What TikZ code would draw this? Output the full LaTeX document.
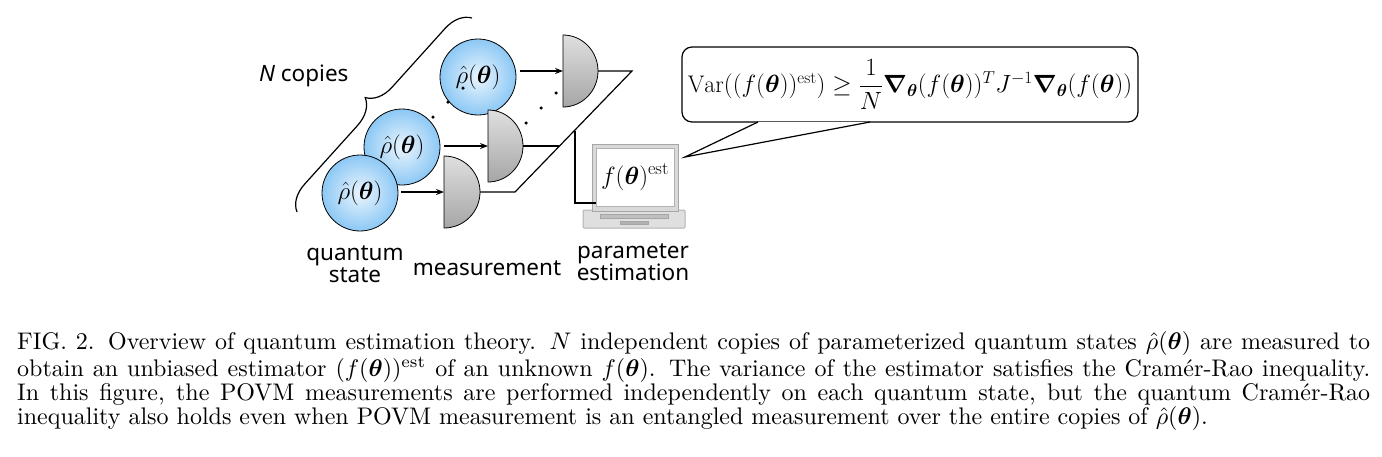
\documentclass[tikz,border=0pt]{standalone}
\usepackage{amsmath,amssymb,bm}
\usepackage{fontspec}
\newfontfamily\lab{Noto Sans}
\usetikzlibrary{decorations.pathreplacing,arrows.meta}
\definecolor{qblue}{RGB}{140,200,245}
\definecolor{qlight}{RGB}{235,245,253}
\tikzset{
  qstate/.style={circle,draw=black,line width=0.8pt,minimum size=76pt,inner sep=0pt,inner color=qlight,outer color=qblue,font=\fontsize{24}{26}\selectfont},
  det/.style={draw=black,line width=0.8pt,top color=gray!25,bottom color=gray!70},
  wire/.style={line width=1.2pt},
  arr/.style={line width=1.2pt,-{Stealth[length=8pt,width=6pt]}},
  labtxt/.style={font=\lab\fontsize{22.5}{24}\selectfont,align=center},
  dotn/.style={circle,fill=black,inner sep=0pt,minimum size=3.5pt}
}
\begin{document}
\begin{tikzpicture}[x=1pt,y=-1pt]
\useasboundingbox (0,0) rectangle (1382,456);
% brace
\draw[line width=1.2pt,decorate,decoration={brace,amplitude=26pt}] (297,212) -- (472,18);
\node[labtxt,anchor=east] (nc) at (352,76) {\textit{N} copies};
% states
\node[qstate] (s3) at (478,77) {$\hat\rho(\bm\theta)$};
\node[qstate] (s2) at (402,147) {$\hat\rho(\bm\theta)$};
\node[qstate] (s1) at (360,193) {$\hat\rho(\bm\theta)$};
% dots
\node[dotn] (d1) at (463,88) {};
\node[dotn] (d2) at (448,102) {};
\node[dotn] (d3) at (433,117) {};
\node[dotn] (e1) at (556,93) {};
\node[dotn] (e2) at (541,108) {};
\node[dotn] (e3) at (526,123) {};
% detectors
\draw[det] (563,35) arc[start angle=-90,end angle=90,x radius=35,y radius=36] -- cycle;
\draw[det] (488,110) arc[start angle=-90,end angle=90,x radius=35,y radius=36] -- cycle;
\draw[det] (444,156) arc[start angle=-90,end angle=90,x radius=36,y radius=36] -- cycle;
\coordinate (m3) at (563,71); \coordinate (m2) at (488,146); \coordinate (m1) at (444,192);
\coordinate (o3) at (598,71); \coordinate (o2) at (523,146); \coordinate (o1) at (480,192);
% arrows
\coordinate (a3) at (520,71); \coordinate (a2) at (444,146); \coordinate (a1) at (401,192);
\draw[arr] (a3) -- (m3);
\draw[arr] (a2) -- (m2);
\draw[arr] (a1) -- (m1);
% wires
\coordinate (c3) at (632,71); \coordinate (c1) at (515,192); \coordinate (c2) at (559,146);
\draw[wire] (o3) -- (c3) -- (c1) -- (o1);
\draw[wire] (o2) -- (c2);
\coordinate (v1) at (575,131); \coordinate (v2) at (575,203);
% laptop
\draw[gray!60,line width=1pt,fill=gray!25,rounded corners=1pt] (583,210) -- (685,210) -- (685,228) -- (583,228) -- cycle;
\draw[gray!70,line width=0.6pt,fill=gray!50] (600,214) rectangle (668,218);
\draw[gray!70,line width=0.6pt,fill=gray!60] (620,221) rectangle (648,224);
\draw[gray!70,line width=1pt,fill=gray!30] (592,144) rectangle (678,211);
\node[draw=gray!60,fill=white,minimum width=78pt,minimum height=58pt,inner sep=0pt,font=\fontsize{26}{28}\selectfont] (lap) at (635,177) {$f(\bm\theta)^{\mathrm{est}}$};
\draw[wire] (v1) -- (v2) -- (lap.west |- v2);
% labels
\node[labtxt] (lq) at (355,264) {quantum\\[-2pt]state};
\node[labtxt] (lm) at (487,268) {measurement};
\node[labtxt] (lp) at (633,262) {parameter\\[-2pt]estimation};
% bubble
\node[draw,line width=1.2pt,rounded corners=10pt,minimum width=456pt,minimum height=75pt,font=\fontsize{24}{26}\selectfont] (bub) at (910,84.5)
 {$\mathrm{Var}((f(\bm\theta))^{\mathrm{est}})\geq\dfrac{1}{N}\bm\nabla_{\bm\theta}(f(\bm\theta))^{T}J^{-1}\bm\nabla_{\bm\theta}(f(\bm\theta))$};
\coordinate (t1) at (758,122); \coordinate (t2) at (685,157); \coordinate (t3) at (870,122);
\fill[white] (t1) -- (t2) -- (t3) -- cycle;
\draw[line width=1.2pt] (t1) -- (t2) -- (t3);
% caption
\node[anchor=north west,inner sep=0pt] (cap) at (17,331)
{\scalebox{2.4}{\parbox{563.75pt}{\fontsize{10}{10}\selectfont\sloppy FIG.~2. Overview of quantum estimation theory. $N$ independent copies of parameterized quantum states $\hat\rho(\bm\theta)$ are measured to\linebreak obtain an unbiased estimator $(f(\bm\theta))^{\mathrm{est}}$ of an unknown $f(\bm\theta)$. The variance of the estimator satisfies the Cram\'er-Rao inequality.\linebreak In this figure, the POVM measurements are performed independently on each quantum state, but the quantum Cram\'er-Rao\linebreak inequality also holds even when POVM measurement is an entangled measurement over the entire copies of $\hat\rho(\bm\theta)$.}}};
\end{tikzpicture}
\end{document}
